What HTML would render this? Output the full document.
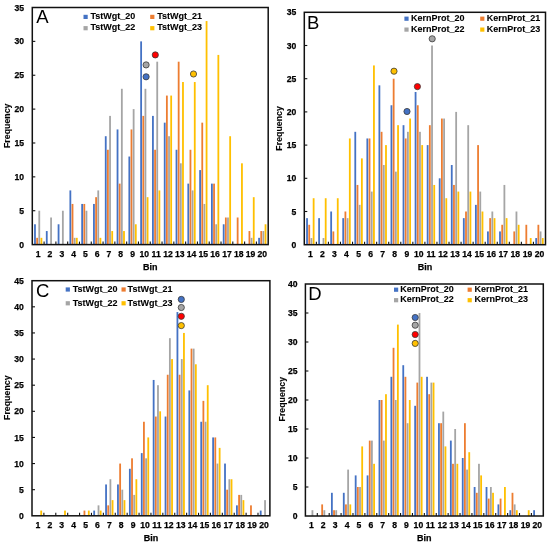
<!DOCTYPE html>
<html><head><meta charset="utf-8"><style>
html,body{margin:0;padding:0;background:#fff;width:550px;height:545px;overflow:hidden}
svg{display:block;will-change:transform}
text{font-family:"Liberation Sans",sans-serif;fill:#000}
.t,.b{stroke:#000;stroke-width:0.25px}
.f,.g{stroke:#000;stroke-width:0.1px}
.t{font-size:8.6px;font-weight:bold}
.f{font-size:8.8px;font-weight:bold}
.b{font-size:9.0px;font-weight:bold}
.g{font-size:9.0px;font-weight:bold}
.l{font-size:18.5px}
</style></head><body>
<svg width="550" height="545" viewBox="0 0 550 545">
<rect x="34.07" y="224.28" width="1.8" height="20.32" fill="#4472C4"/>
<rect x="45.86" y="231.05" width="1.8" height="13.55" fill="#4472C4"/>
<rect x="57.66" y="224.28" width="1.8" height="20.32" fill="#4472C4"/>
<rect x="69.45" y="190.41" width="1.8" height="54.19" fill="#4472C4"/>
<rect x="81.25" y="203.95" width="1.8" height="40.65" fill="#4472C4"/>
<rect x="93.04" y="203.95" width="1.8" height="40.65" fill="#4472C4"/>
<rect x="104.84" y="136.21" width="1.8" height="108.39" fill="#4472C4"/>
<rect x="116.63" y="129.44" width="1.8" height="115.16" fill="#4472C4"/>
<rect x="128.43" y="156.53" width="1.8" height="88.07" fill="#4472C4"/>
<rect x="140.22" y="41.37" width="1.8" height="203.23" fill="#4472C4"/>
<rect x="152.02" y="115.89" width="1.8" height="128.71" fill="#4472C4"/>
<rect x="163.81" y="122.66" width="1.8" height="121.94" fill="#4472C4"/>
<rect x="175.61" y="149.76" width="1.8" height="94.84" fill="#4472C4"/>
<rect x="187.40" y="183.63" width="1.8" height="60.97" fill="#4472C4"/>
<rect x="199.20" y="170.08" width="1.8" height="74.52" fill="#4472C4"/>
<rect x="210.99" y="183.63" width="1.8" height="60.97" fill="#4472C4"/>
<rect x="222.79" y="224.28" width="1.8" height="20.32" fill="#4472C4"/>
<rect x="258.17" y="237.83" width="1.8" height="6.77" fill="#4472C4"/>
<rect x="36.22" y="237.83" width="1.8" height="6.77" fill="#ED7D31"/>
<rect x="71.61" y="203.95" width="1.8" height="40.65" fill="#ED7D31"/>
<rect x="83.40" y="203.95" width="1.8" height="40.65" fill="#ED7D31"/>
<rect x="95.20" y="197.18" width="1.8" height="47.42" fill="#ED7D31"/>
<rect x="106.99" y="149.76" width="1.8" height="94.84" fill="#ED7D31"/>
<rect x="118.79" y="183.63" width="1.8" height="60.97" fill="#ED7D31"/>
<rect x="130.58" y="129.44" width="1.8" height="115.16" fill="#ED7D31"/>
<rect x="142.38" y="115.89" width="1.8" height="128.71" fill="#ED7D31"/>
<rect x="154.17" y="149.76" width="1.8" height="94.84" fill="#ED7D31"/>
<rect x="165.97" y="95.57" width="1.8" height="149.03" fill="#ED7D31"/>
<rect x="177.76" y="61.69" width="1.8" height="182.91" fill="#ED7D31"/>
<rect x="189.56" y="149.76" width="1.8" height="94.84" fill="#ED7D31"/>
<rect x="201.35" y="122.66" width="1.8" height="121.94" fill="#ED7D31"/>
<rect x="213.15" y="183.63" width="1.8" height="60.97" fill="#ED7D31"/>
<rect x="224.94" y="217.50" width="1.8" height="27.10" fill="#ED7D31"/>
<rect x="236.74" y="217.50" width="1.8" height="27.10" fill="#ED7D31"/>
<rect x="248.53" y="231.05" width="1.8" height="13.55" fill="#ED7D31"/>
<rect x="260.33" y="231.05" width="1.8" height="13.55" fill="#ED7D31"/>
<rect x="38.37" y="210.73" width="1.8" height="33.87" fill="#A5A5A5"/>
<rect x="50.17" y="217.50" width="1.8" height="27.10" fill="#A5A5A5"/>
<rect x="61.96" y="210.73" width="1.8" height="33.87" fill="#A5A5A5"/>
<rect x="73.76" y="237.83" width="1.8" height="6.77" fill="#A5A5A5"/>
<rect x="85.55" y="210.73" width="1.8" height="33.87" fill="#A5A5A5"/>
<rect x="97.35" y="190.41" width="1.8" height="54.19" fill="#A5A5A5"/>
<rect x="109.14" y="115.89" width="1.8" height="128.71" fill="#A5A5A5"/>
<rect x="120.94" y="88.79" width="1.8" height="155.81" fill="#A5A5A5"/>
<rect x="132.73" y="109.11" width="1.8" height="135.49" fill="#A5A5A5"/>
<rect x="144.53" y="88.79" width="1.8" height="155.81" fill="#A5A5A5"/>
<rect x="156.32" y="61.69" width="1.8" height="182.91" fill="#A5A5A5"/>
<rect x="168.12" y="136.21" width="1.8" height="108.39" fill="#A5A5A5"/>
<rect x="179.91" y="163.31" width="1.8" height="81.29" fill="#A5A5A5"/>
<rect x="191.71" y="190.41" width="1.8" height="54.19" fill="#A5A5A5"/>
<rect x="203.50" y="203.95" width="1.8" height="40.65" fill="#A5A5A5"/>
<rect x="215.30" y="224.28" width="1.8" height="20.32" fill="#A5A5A5"/>
<rect x="227.09" y="217.50" width="1.8" height="27.10" fill="#A5A5A5"/>
<rect x="250.68" y="237.83" width="1.8" height="6.77" fill="#A5A5A5"/>
<rect x="262.48" y="231.05" width="1.8" height="13.55" fill="#A5A5A5"/>
<rect x="40.53" y="237.83" width="1.8" height="6.77" fill="#FFC000"/>
<rect x="75.91" y="237.83" width="1.8" height="6.77" fill="#FFC000"/>
<rect x="99.50" y="237.83" width="1.8" height="6.77" fill="#FFC000"/>
<rect x="111.30" y="231.05" width="1.8" height="13.55" fill="#FFC000"/>
<rect x="123.09" y="231.05" width="1.8" height="13.55" fill="#FFC000"/>
<rect x="134.89" y="224.28" width="1.8" height="20.32" fill="#FFC000"/>
<rect x="146.68" y="197.18" width="1.8" height="47.42" fill="#FFC000"/>
<rect x="158.48" y="190.41" width="1.8" height="54.19" fill="#FFC000"/>
<rect x="170.27" y="95.57" width="1.8" height="149.03" fill="#FFC000"/>
<rect x="182.07" y="82.02" width="1.8" height="162.58" fill="#FFC000"/>
<rect x="193.86" y="82.02" width="1.8" height="162.58" fill="#FFC000"/>
<rect x="205.66" y="21.05" width="1.8" height="223.55" fill="#FFC000"/>
<rect x="217.45" y="54.92" width="1.8" height="189.68" fill="#FFC000"/>
<rect x="229.25" y="136.21" width="1.8" height="108.39" fill="#FFC000"/>
<rect x="241.04" y="163.31" width="1.8" height="81.29" fill="#FFC000"/>
<rect x="252.84" y="197.18" width="1.8" height="47.42" fill="#FFC000"/>
<rect x="264.63" y="224.28" width="1.8" height="20.32" fill="#FFC000"/>
<line x1="44.09" y1="244.6" x2="44.09" y2="241.6" stroke="#111" stroke-width="1.1"/>
<line x1="55.89" y1="244.6" x2="55.89" y2="241.6" stroke="#111" stroke-width="1.1"/>
<line x1="67.68" y1="244.6" x2="67.68" y2="241.6" stroke="#111" stroke-width="1.1"/>
<line x1="79.48" y1="244.6" x2="79.48" y2="241.6" stroke="#111" stroke-width="1.1"/>
<line x1="91.27" y1="244.6" x2="91.27" y2="241.6" stroke="#111" stroke-width="1.1"/>
<line x1="103.07" y1="244.6" x2="103.07" y2="241.6" stroke="#111" stroke-width="1.1"/>
<line x1="114.86" y1="244.6" x2="114.86" y2="241.6" stroke="#111" stroke-width="1.1"/>
<line x1="126.66" y1="244.6" x2="126.66" y2="241.6" stroke="#111" stroke-width="1.1"/>
<line x1="138.45" y1="244.6" x2="138.45" y2="241.6" stroke="#111" stroke-width="1.1"/>
<line x1="150.25" y1="244.6" x2="150.25" y2="241.6" stroke="#111" stroke-width="1.1"/>
<line x1="162.04" y1="244.6" x2="162.04" y2="241.6" stroke="#111" stroke-width="1.1"/>
<line x1="173.84" y1="244.6" x2="173.84" y2="241.6" stroke="#111" stroke-width="1.1"/>
<line x1="185.63" y1="244.6" x2="185.63" y2="241.6" stroke="#111" stroke-width="1.1"/>
<line x1="197.43" y1="244.6" x2="197.43" y2="241.6" stroke="#111" stroke-width="1.1"/>
<line x1="209.22" y1="244.6" x2="209.22" y2="241.6" stroke="#111" stroke-width="1.1"/>
<line x1="221.02" y1="244.6" x2="221.02" y2="241.6" stroke="#111" stroke-width="1.1"/>
<line x1="232.81" y1="244.6" x2="232.81" y2="241.6" stroke="#111" stroke-width="1.1"/>
<line x1="244.61" y1="244.6" x2="244.61" y2="241.6" stroke="#111" stroke-width="1.1"/>
<line x1="256.40" y1="244.6" x2="256.40" y2="241.6" stroke="#111" stroke-width="1.1"/>
<line x1="32.3" y1="210.73" x2="35.3" y2="210.73" stroke="#111" stroke-width="1.1"/>
<line x1="32.3" y1="176.86" x2="35.3" y2="176.86" stroke="#111" stroke-width="1.1"/>
<line x1="32.3" y1="142.99" x2="35.3" y2="142.99" stroke="#111" stroke-width="1.1"/>
<line x1="32.3" y1="109.11" x2="35.3" y2="109.11" stroke="#111" stroke-width="1.1"/>
<line x1="32.3" y1="75.24" x2="35.3" y2="75.24" stroke="#111" stroke-width="1.1"/>
<line x1="32.3" y1="41.37" x2="35.3" y2="41.37" stroke="#111" stroke-width="1.1"/>
<rect x="32.3" y="7.5" width="235.90" height="237.10" fill="none" stroke="#111" stroke-width="1.5"/>
<text x="24.0" y="247.70" class="t" text-anchor="end">0</text>
<text x="24.0" y="213.83" class="t" text-anchor="end">5</text>
<text x="24.0" y="179.96" class="t" text-anchor="end">10</text>
<text x="24.0" y="146.09" class="t" text-anchor="end">15</text>
<text x="24.0" y="112.21" class="t" text-anchor="end">20</text>
<text x="24.0" y="78.34" class="t" text-anchor="end">25</text>
<text x="24.0" y="44.47" class="t" text-anchor="end">30</text>
<text x="24.0" y="10.60" class="t" text-anchor="end">35</text>
<text x="38.20" y="256.7" class="t" text-anchor="middle">1</text>
<text x="49.99" y="256.7" class="t" text-anchor="middle">2</text>
<text x="61.79" y="256.7" class="t" text-anchor="middle">3</text>
<text x="73.58" y="256.7" class="t" text-anchor="middle">4</text>
<text x="85.38" y="256.7" class="t" text-anchor="middle">5</text>
<text x="97.17" y="256.7" class="t" text-anchor="middle">6</text>
<text x="108.97" y="256.7" class="t" text-anchor="middle">7</text>
<text x="120.76" y="256.7" class="t" text-anchor="middle">8</text>
<text x="132.56" y="256.7" class="t" text-anchor="middle">9</text>
<text x="144.35" y="256.7" class="t" text-anchor="middle">10</text>
<text x="156.15" y="256.7" class="t" text-anchor="middle">11</text>
<text x="167.94" y="256.7" class="t" text-anchor="middle">12</text>
<text x="179.74" y="256.7" class="t" text-anchor="middle">13</text>
<text x="191.53" y="256.7" class="t" text-anchor="middle">14</text>
<text x="203.33" y="256.7" class="t" text-anchor="middle">15</text>
<text x="215.12" y="256.7" class="t" text-anchor="middle">16</text>
<text x="226.92" y="256.7" class="t" text-anchor="middle">17</text>
<text x="238.71" y="256.7" class="t" text-anchor="middle">18</text>
<text x="250.51" y="256.7" class="t" text-anchor="middle">19</text>
<text x="262.30" y="256.7" class="t" text-anchor="middle">20</text>
<text x="150.25" y="269.8" class="b" text-anchor="middle">Bin</text>
<text transform="translate(10.30,125.80) rotate(-90)" class="f" text-anchor="middle">Frequency</text>
<text x="36.2" y="23.4" class="l">A</text>
<rect x="83.5" y="14.80" width="4.2" height="4.2" fill="#4472C4"/>
<text x="90.5" y="19.1" class="g">TstWgt_20</text>
<rect x="150.2" y="14.80" width="4.2" height="4.2" fill="#ED7D31"/>
<text x="157.2" y="19.1" class="g">TstWgt_21</text>
<rect x="83.5" y="26.10" width="4.2" height="4.2" fill="#A5A5A5"/>
<text x="90.5" y="30.4" class="g">TstWgt_22</text>
<rect x="150.2" y="26.10" width="4.2" height="4.2" fill="#FFC000"/>
<text x="157.2" y="30.4" class="g">TstWgt_23</text>
<circle cx="146.1" cy="76.8" r="3.1" fill="#4472C4" stroke="#3a3a3a" stroke-width="0.8"/>
<circle cx="146.1" cy="64.9" r="3.1" fill="#A5A5A5" stroke="#3a3a3a" stroke-width="0.8"/>
<circle cx="155.3" cy="54.9" r="3.1" fill="#FF0000" stroke="#3a3a3a" stroke-width="0.8"/>
<circle cx="193.5" cy="74.0" r="3.1" fill="#FFC000" stroke="#3a3a3a" stroke-width="0.8"/>
<rect x="306.13" y="218.14" width="1.8" height="26.56" fill="#4472C4"/>
<rect x="318.19" y="218.14" width="1.8" height="26.56" fill="#4472C4"/>
<rect x="330.25" y="211.50" width="1.8" height="33.20" fill="#4472C4"/>
<rect x="342.31" y="218.14" width="1.8" height="26.56" fill="#4472C4"/>
<rect x="354.37" y="131.82" width="1.8" height="112.88" fill="#4472C4"/>
<rect x="366.43" y="138.46" width="1.8" height="106.24" fill="#4472C4"/>
<rect x="378.49" y="85.34" width="1.8" height="159.36" fill="#4472C4"/>
<rect x="390.55" y="105.26" width="1.8" height="139.44" fill="#4472C4"/>
<rect x="402.61" y="125.18" width="1.8" height="119.52" fill="#4472C4"/>
<rect x="414.67" y="91.98" width="1.8" height="152.72" fill="#4472C4"/>
<rect x="426.73" y="145.10" width="1.8" height="99.60" fill="#4472C4"/>
<rect x="438.79" y="178.30" width="1.8" height="66.40" fill="#4472C4"/>
<rect x="450.85" y="165.02" width="1.8" height="79.68" fill="#4472C4"/>
<rect x="462.91" y="218.14" width="1.8" height="26.56" fill="#4472C4"/>
<rect x="474.97" y="204.86" width="1.8" height="39.84" fill="#4472C4"/>
<rect x="487.03" y="231.42" width="1.8" height="13.28" fill="#4472C4"/>
<rect x="499.09" y="231.42" width="1.8" height="13.28" fill="#4472C4"/>
<rect x="535.27" y="238.06" width="1.8" height="6.64" fill="#4472C4"/>
<rect x="308.33" y="224.78" width="1.8" height="19.92" fill="#ED7D31"/>
<rect x="332.45" y="231.42" width="1.8" height="13.28" fill="#ED7D31"/>
<rect x="344.51" y="211.50" width="1.8" height="33.20" fill="#ED7D31"/>
<rect x="356.57" y="184.94" width="1.8" height="59.76" fill="#ED7D31"/>
<rect x="368.63" y="138.46" width="1.8" height="106.24" fill="#ED7D31"/>
<rect x="380.69" y="131.82" width="1.8" height="112.88" fill="#ED7D31"/>
<rect x="392.75" y="78.70" width="1.8" height="166.00" fill="#ED7D31"/>
<rect x="404.81" y="138.46" width="1.8" height="106.24" fill="#ED7D31"/>
<rect x="416.87" y="105.26" width="1.8" height="139.44" fill="#ED7D31"/>
<rect x="428.93" y="125.18" width="1.8" height="119.52" fill="#ED7D31"/>
<rect x="440.99" y="118.54" width="1.8" height="126.16" fill="#ED7D31"/>
<rect x="453.05" y="184.94" width="1.8" height="59.76" fill="#ED7D31"/>
<rect x="465.11" y="211.50" width="1.8" height="33.20" fill="#ED7D31"/>
<rect x="477.17" y="145.10" width="1.8" height="99.60" fill="#ED7D31"/>
<rect x="489.23" y="218.14" width="1.8" height="26.56" fill="#ED7D31"/>
<rect x="501.29" y="224.78" width="1.8" height="19.92" fill="#ED7D31"/>
<rect x="513.35" y="231.42" width="1.8" height="13.28" fill="#ED7D31"/>
<rect x="525.41" y="224.78" width="1.8" height="19.92" fill="#ED7D31"/>
<rect x="537.47" y="224.78" width="1.8" height="19.92" fill="#ED7D31"/>
<rect x="310.53" y="238.06" width="1.8" height="6.64" fill="#A5A5A5"/>
<rect x="322.59" y="238.06" width="1.8" height="6.64" fill="#A5A5A5"/>
<rect x="346.71" y="218.14" width="1.8" height="26.56" fill="#A5A5A5"/>
<rect x="358.77" y="204.86" width="1.8" height="39.84" fill="#A5A5A5"/>
<rect x="370.83" y="191.58" width="1.8" height="53.12" fill="#A5A5A5"/>
<rect x="382.89" y="165.02" width="1.8" height="79.68" fill="#A5A5A5"/>
<rect x="394.95" y="171.66" width="1.8" height="73.04" fill="#A5A5A5"/>
<rect x="407.01" y="131.82" width="1.8" height="112.88" fill="#A5A5A5"/>
<rect x="419.07" y="131.82" width="1.8" height="112.88" fill="#A5A5A5"/>
<rect x="431.13" y="45.50" width="1.8" height="199.20" fill="#A5A5A5"/>
<rect x="443.19" y="118.54" width="1.8" height="126.16" fill="#A5A5A5"/>
<rect x="455.25" y="111.90" width="1.8" height="132.80" fill="#A5A5A5"/>
<rect x="467.31" y="125.18" width="1.8" height="119.52" fill="#A5A5A5"/>
<rect x="479.37" y="191.58" width="1.8" height="53.12" fill="#A5A5A5"/>
<rect x="491.43" y="211.50" width="1.8" height="33.20" fill="#A5A5A5"/>
<rect x="503.49" y="184.94" width="1.8" height="59.76" fill="#A5A5A5"/>
<rect x="515.55" y="211.50" width="1.8" height="33.20" fill="#A5A5A5"/>
<rect x="539.67" y="231.42" width="1.8" height="13.28" fill="#A5A5A5"/>
<rect x="312.73" y="198.22" width="1.8" height="46.48" fill="#FFC000"/>
<rect x="324.79" y="198.22" width="1.8" height="46.48" fill="#FFC000"/>
<rect x="336.85" y="198.22" width="1.8" height="46.48" fill="#FFC000"/>
<rect x="348.91" y="138.46" width="1.8" height="106.24" fill="#FFC000"/>
<rect x="360.97" y="158.38" width="1.8" height="86.32" fill="#FFC000"/>
<rect x="373.03" y="65.42" width="1.8" height="179.28" fill="#FFC000"/>
<rect x="385.09" y="145.10" width="1.8" height="99.60" fill="#FFC000"/>
<rect x="397.15" y="125.18" width="1.8" height="119.52" fill="#FFC000"/>
<rect x="409.21" y="118.54" width="1.8" height="126.16" fill="#FFC000"/>
<rect x="421.27" y="145.10" width="1.8" height="99.60" fill="#FFC000"/>
<rect x="433.33" y="184.94" width="1.8" height="59.76" fill="#FFC000"/>
<rect x="445.39" y="198.22" width="1.8" height="46.48" fill="#FFC000"/>
<rect x="457.45" y="191.58" width="1.8" height="53.12" fill="#FFC000"/>
<rect x="469.51" y="191.58" width="1.8" height="53.12" fill="#FFC000"/>
<rect x="481.57" y="211.50" width="1.8" height="33.20" fill="#FFC000"/>
<rect x="493.63" y="218.14" width="1.8" height="26.56" fill="#FFC000"/>
<rect x="505.69" y="218.14" width="1.8" height="26.56" fill="#FFC000"/>
<rect x="517.75" y="224.78" width="1.8" height="19.92" fill="#FFC000"/>
<rect x="529.81" y="238.06" width="1.8" height="6.64" fill="#FFC000"/>
<rect x="541.87" y="238.06" width="1.8" height="6.64" fill="#FFC000"/>
<line x1="316.36" y1="244.7" x2="316.36" y2="241.7" stroke="#111" stroke-width="1.1"/>
<line x1="328.42" y1="244.7" x2="328.42" y2="241.7" stroke="#111" stroke-width="1.1"/>
<line x1="340.48" y1="244.7" x2="340.48" y2="241.7" stroke="#111" stroke-width="1.1"/>
<line x1="352.54" y1="244.7" x2="352.54" y2="241.7" stroke="#111" stroke-width="1.1"/>
<line x1="364.60" y1="244.7" x2="364.60" y2="241.7" stroke="#111" stroke-width="1.1"/>
<line x1="376.66" y1="244.7" x2="376.66" y2="241.7" stroke="#111" stroke-width="1.1"/>
<line x1="388.72" y1="244.7" x2="388.72" y2="241.7" stroke="#111" stroke-width="1.1"/>
<line x1="400.78" y1="244.7" x2="400.78" y2="241.7" stroke="#111" stroke-width="1.1"/>
<line x1="412.84" y1="244.7" x2="412.84" y2="241.7" stroke="#111" stroke-width="1.1"/>
<line x1="424.90" y1="244.7" x2="424.90" y2="241.7" stroke="#111" stroke-width="1.1"/>
<line x1="436.96" y1="244.7" x2="436.96" y2="241.7" stroke="#111" stroke-width="1.1"/>
<line x1="449.02" y1="244.7" x2="449.02" y2="241.7" stroke="#111" stroke-width="1.1"/>
<line x1="461.08" y1="244.7" x2="461.08" y2="241.7" stroke="#111" stroke-width="1.1"/>
<line x1="473.14" y1="244.7" x2="473.14" y2="241.7" stroke="#111" stroke-width="1.1"/>
<line x1="485.20" y1="244.7" x2="485.20" y2="241.7" stroke="#111" stroke-width="1.1"/>
<line x1="497.26" y1="244.7" x2="497.26" y2="241.7" stroke="#111" stroke-width="1.1"/>
<line x1="509.32" y1="244.7" x2="509.32" y2="241.7" stroke="#111" stroke-width="1.1"/>
<line x1="521.38" y1="244.7" x2="521.38" y2="241.7" stroke="#111" stroke-width="1.1"/>
<line x1="533.44" y1="244.7" x2="533.44" y2="241.7" stroke="#111" stroke-width="1.1"/>
<line x1="304.3" y1="211.50" x2="307.3" y2="211.50" stroke="#111" stroke-width="1.1"/>
<line x1="304.3" y1="178.30" x2="307.3" y2="178.30" stroke="#111" stroke-width="1.1"/>
<line x1="304.3" y1="145.10" x2="307.3" y2="145.10" stroke="#111" stroke-width="1.1"/>
<line x1="304.3" y1="111.90" x2="307.3" y2="111.90" stroke="#111" stroke-width="1.1"/>
<line x1="304.3" y1="78.70" x2="307.3" y2="78.70" stroke="#111" stroke-width="1.1"/>
<line x1="304.3" y1="45.50" x2="307.3" y2="45.50" stroke="#111" stroke-width="1.1"/>
<rect x="304.3" y="12.3" width="241.20" height="232.40" fill="none" stroke="#111" stroke-width="1.5"/>
<text x="296.4" y="247.80" class="t" text-anchor="end">0</text>
<text x="296.4" y="214.60" class="t" text-anchor="end">5</text>
<text x="296.4" y="181.40" class="t" text-anchor="end">10</text>
<text x="296.4" y="148.20" class="t" text-anchor="end">15</text>
<text x="296.4" y="115.00" class="t" text-anchor="end">20</text>
<text x="296.4" y="81.80" class="t" text-anchor="end">25</text>
<text x="296.4" y="48.60" class="t" text-anchor="end">30</text>
<text x="296.4" y="15.40" class="t" text-anchor="end">35</text>
<text x="310.33" y="256.7" class="t" text-anchor="middle">1</text>
<text x="322.39" y="256.7" class="t" text-anchor="middle">2</text>
<text x="334.45" y="256.7" class="t" text-anchor="middle">3</text>
<text x="346.51" y="256.7" class="t" text-anchor="middle">4</text>
<text x="358.57" y="256.7" class="t" text-anchor="middle">5</text>
<text x="370.63" y="256.7" class="t" text-anchor="middle">6</text>
<text x="382.69" y="256.7" class="t" text-anchor="middle">7</text>
<text x="394.75" y="256.7" class="t" text-anchor="middle">8</text>
<text x="406.81" y="256.7" class="t" text-anchor="middle">9</text>
<text x="418.87" y="256.7" class="t" text-anchor="middle">10</text>
<text x="430.93" y="256.7" class="t" text-anchor="middle">11</text>
<text x="442.99" y="256.7" class="t" text-anchor="middle">12</text>
<text x="455.05" y="256.7" class="t" text-anchor="middle">13</text>
<text x="467.11" y="256.7" class="t" text-anchor="middle">14</text>
<text x="479.17" y="256.7" class="t" text-anchor="middle">15</text>
<text x="491.23" y="256.7" class="t" text-anchor="middle">16</text>
<text x="503.29" y="256.7" class="t" text-anchor="middle">17</text>
<text x="515.35" y="256.7" class="t" text-anchor="middle">18</text>
<text x="527.41" y="256.7" class="t" text-anchor="middle">19</text>
<text x="539.47" y="256.7" class="t" text-anchor="middle">20</text>
<text x="424.90" y="269.5" class="b" text-anchor="middle">Bin</text>
<text transform="translate(282.30,128.40) rotate(-90)" class="f" text-anchor="middle">Frequency</text>
<text x="306.9" y="28.6" class="l">B</text>
<rect x="404.4" y="16.60" width="4.2" height="4.2" fill="#4472C4"/>
<text x="410.9" y="20.9" class="g">KernProt_20</text>
<rect x="480.2" y="16.60" width="4.2" height="4.2" fill="#ED7D31"/>
<text x="486.7" y="20.9" class="g">KernProt_21</text>
<rect x="404.4" y="27.50" width="4.2" height="4.2" fill="#A5A5A5"/>
<text x="410.9" y="31.8" class="g">KernProt_22</text>
<rect x="480.2" y="27.50" width="4.2" height="4.2" fill="#FFC000"/>
<text x="486.7" y="31.8" class="g">KernProt_23</text>
<circle cx="394.0" cy="71.2" r="3.1" fill="#FFC000" stroke="#3a3a3a" stroke-width="0.8"/>
<circle cx="407.0" cy="111.5" r="3.1" fill="#4472C4" stroke="#3a3a3a" stroke-width="0.8"/>
<circle cx="417.4" cy="86.6" r="3.1" fill="#FF0000" stroke="#3a3a3a" stroke-width="0.8"/>
<circle cx="432.2" cy="38.8" r="3.1" fill="#A5A5A5" stroke="#3a3a3a" stroke-width="0.8"/>
<rect x="93.27" y="510.58" width="1.8" height="5.22" fill="#4472C4"/>
<rect x="105.16" y="484.45" width="1.8" height="31.35" fill="#4472C4"/>
<rect x="117.06" y="484.45" width="1.8" height="31.35" fill="#4472C4"/>
<rect x="128.95" y="468.78" width="1.8" height="47.02" fill="#4472C4"/>
<rect x="140.85" y="453.11" width="1.8" height="62.69" fill="#4472C4"/>
<rect x="152.74" y="379.96" width="1.8" height="135.84" fill="#4472C4"/>
<rect x="164.64" y="416.54" width="1.8" height="99.26" fill="#4472C4"/>
<rect x="176.53" y="312.05" width="1.8" height="203.75" fill="#4472C4"/>
<rect x="188.43" y="390.41" width="1.8" height="125.39" fill="#4472C4"/>
<rect x="200.32" y="421.76" width="1.8" height="94.04" fill="#4472C4"/>
<rect x="212.22" y="437.43" width="1.8" height="78.37" fill="#4472C4"/>
<rect x="224.11" y="463.56" width="1.8" height="52.24" fill="#4472C4"/>
<rect x="236.01" y="505.35" width="1.8" height="10.45" fill="#4472C4"/>
<rect x="259.80" y="510.58" width="1.8" height="5.22" fill="#4472C4"/>
<rect x="83.54" y="510.58" width="1.8" height="5.22" fill="#ED7D31"/>
<rect x="107.33" y="505.35" width="1.8" height="10.45" fill="#ED7D31"/>
<rect x="119.23" y="463.56" width="1.8" height="52.24" fill="#ED7D31"/>
<rect x="131.12" y="458.33" width="1.8" height="57.47" fill="#ED7D31"/>
<rect x="143.02" y="421.76" width="1.8" height="94.04" fill="#ED7D31"/>
<rect x="154.91" y="416.54" width="1.8" height="99.26" fill="#ED7D31"/>
<rect x="166.81" y="374.74" width="1.8" height="141.06" fill="#ED7D31"/>
<rect x="178.70" y="374.74" width="1.8" height="141.06" fill="#ED7D31"/>
<rect x="190.60" y="348.62" width="1.8" height="167.18" fill="#ED7D31"/>
<rect x="202.49" y="400.86" width="1.8" height="114.94" fill="#ED7D31"/>
<rect x="214.39" y="437.43" width="1.8" height="78.37" fill="#ED7D31"/>
<rect x="226.28" y="489.68" width="1.8" height="26.12" fill="#ED7D31"/>
<rect x="238.18" y="494.90" width="1.8" height="20.90" fill="#ED7D31"/>
<rect x="250.07" y="505.35" width="1.8" height="10.45" fill="#ED7D31"/>
<rect x="97.61" y="505.35" width="1.8" height="10.45" fill="#A5A5A5"/>
<rect x="109.50" y="479.23" width="1.8" height="36.57" fill="#A5A5A5"/>
<rect x="121.40" y="489.68" width="1.8" height="26.12" fill="#A5A5A5"/>
<rect x="133.29" y="494.90" width="1.8" height="20.90" fill="#A5A5A5"/>
<rect x="145.19" y="458.33" width="1.8" height="57.47" fill="#A5A5A5"/>
<rect x="157.08" y="385.19" width="1.8" height="130.61" fill="#A5A5A5"/>
<rect x="168.98" y="338.17" width="1.8" height="177.63" fill="#A5A5A5"/>
<rect x="180.87" y="359.07" width="1.8" height="156.73" fill="#A5A5A5"/>
<rect x="192.77" y="348.62" width="1.8" height="167.18" fill="#A5A5A5"/>
<rect x="204.66" y="421.76" width="1.8" height="94.04" fill="#A5A5A5"/>
<rect x="216.56" y="463.56" width="1.8" height="52.24" fill="#A5A5A5"/>
<rect x="228.45" y="479.23" width="1.8" height="36.57" fill="#A5A5A5"/>
<rect x="240.35" y="494.90" width="1.8" height="20.90" fill="#A5A5A5"/>
<rect x="264.14" y="500.13" width="1.8" height="15.67" fill="#A5A5A5"/>
<rect x="40.30" y="510.58" width="1.8" height="5.22" fill="#FFC000"/>
<rect x="64.09" y="510.58" width="1.8" height="5.22" fill="#FFC000"/>
<rect x="87.88" y="510.58" width="1.8" height="5.22" fill="#FFC000"/>
<rect x="99.78" y="510.58" width="1.8" height="5.22" fill="#FFC000"/>
<rect x="111.67" y="500.13" width="1.8" height="15.67" fill="#FFC000"/>
<rect x="123.57" y="500.13" width="1.8" height="15.67" fill="#FFC000"/>
<rect x="135.46" y="479.23" width="1.8" height="36.57" fill="#FFC000"/>
<rect x="147.36" y="437.43" width="1.8" height="78.37" fill="#FFC000"/>
<rect x="159.25" y="411.31" width="1.8" height="104.49" fill="#FFC000"/>
<rect x="171.15" y="359.07" width="1.8" height="156.73" fill="#FFC000"/>
<rect x="183.04" y="332.94" width="1.8" height="182.86" fill="#FFC000"/>
<rect x="194.94" y="364.29" width="1.8" height="151.51" fill="#FFC000"/>
<rect x="206.83" y="385.19" width="1.8" height="130.61" fill="#FFC000"/>
<rect x="218.73" y="447.88" width="1.8" height="67.92" fill="#FFC000"/>
<rect x="230.62" y="479.23" width="1.8" height="36.57" fill="#FFC000"/>
<rect x="242.52" y="500.13" width="1.8" height="15.67" fill="#FFC000"/>
<line x1="43.89" y1="515.8" x2="43.89" y2="512.8" stroke="#111" stroke-width="1.1"/>
<line x1="55.79" y1="515.8" x2="55.79" y2="512.8" stroke="#111" stroke-width="1.1"/>
<line x1="67.69" y1="515.8" x2="67.69" y2="512.8" stroke="#111" stroke-width="1.1"/>
<line x1="79.58" y1="515.8" x2="79.58" y2="512.8" stroke="#111" stroke-width="1.1"/>
<line x1="91.47" y1="515.8" x2="91.47" y2="512.8" stroke="#111" stroke-width="1.1"/>
<line x1="103.37" y1="515.8" x2="103.37" y2="512.8" stroke="#111" stroke-width="1.1"/>
<line x1="115.27" y1="515.8" x2="115.27" y2="512.8" stroke="#111" stroke-width="1.1"/>
<line x1="127.16" y1="515.8" x2="127.16" y2="512.8" stroke="#111" stroke-width="1.1"/>
<line x1="139.06" y1="515.8" x2="139.06" y2="512.8" stroke="#111" stroke-width="1.1"/>
<line x1="150.95" y1="515.8" x2="150.95" y2="512.8" stroke="#111" stroke-width="1.1"/>
<line x1="162.84" y1="515.8" x2="162.84" y2="512.8" stroke="#111" stroke-width="1.1"/>
<line x1="174.74" y1="515.8" x2="174.74" y2="512.8" stroke="#111" stroke-width="1.1"/>
<line x1="186.63" y1="515.8" x2="186.63" y2="512.8" stroke="#111" stroke-width="1.1"/>
<line x1="198.53" y1="515.8" x2="198.53" y2="512.8" stroke="#111" stroke-width="1.1"/>
<line x1="210.42" y1="515.8" x2="210.42" y2="512.8" stroke="#111" stroke-width="1.1"/>
<line x1="222.32" y1="515.8" x2="222.32" y2="512.8" stroke="#111" stroke-width="1.1"/>
<line x1="234.22" y1="515.8" x2="234.22" y2="512.8" stroke="#111" stroke-width="1.1"/>
<line x1="246.11" y1="515.8" x2="246.11" y2="512.8" stroke="#111" stroke-width="1.1"/>
<line x1="258.00" y1="515.8" x2="258.00" y2="512.8" stroke="#111" stroke-width="1.1"/>
<line x1="32.0" y1="489.68" x2="35.0" y2="489.68" stroke="#111" stroke-width="1.1"/>
<line x1="32.0" y1="463.56" x2="35.0" y2="463.56" stroke="#111" stroke-width="1.1"/>
<line x1="32.0" y1="437.43" x2="35.0" y2="437.43" stroke="#111" stroke-width="1.1"/>
<line x1="32.0" y1="411.31" x2="35.0" y2="411.31" stroke="#111" stroke-width="1.1"/>
<line x1="32.0" y1="385.19" x2="35.0" y2="385.19" stroke="#111" stroke-width="1.1"/>
<line x1="32.0" y1="359.07" x2="35.0" y2="359.07" stroke="#111" stroke-width="1.1"/>
<line x1="32.0" y1="332.94" x2="35.0" y2="332.94" stroke="#111" stroke-width="1.1"/>
<line x1="32.0" y1="306.82" x2="35.0" y2="306.82" stroke="#111" stroke-width="1.1"/>
<rect x="32.0" y="280.7" width="237.90" height="235.10" fill="none" stroke="#111" stroke-width="1.5"/>
<text x="23.8" y="518.90" class="t" text-anchor="end">0</text>
<text x="23.8" y="492.78" class="t" text-anchor="end">5</text>
<text x="23.8" y="466.66" class="t" text-anchor="end">10</text>
<text x="23.8" y="440.53" class="t" text-anchor="end">15</text>
<text x="23.8" y="414.41" class="t" text-anchor="end">20</text>
<text x="23.8" y="388.29" class="t" text-anchor="end">25</text>
<text x="23.8" y="362.17" class="t" text-anchor="end">30</text>
<text x="23.8" y="336.04" class="t" text-anchor="end">35</text>
<text x="23.8" y="309.92" class="t" text-anchor="end">40</text>
<text x="23.8" y="283.80" class="t" text-anchor="end">45</text>
<text x="37.95" y="528.3" class="t" text-anchor="middle">1</text>
<text x="49.84" y="528.3" class="t" text-anchor="middle">2</text>
<text x="61.74" y="528.3" class="t" text-anchor="middle">3</text>
<text x="73.63" y="528.3" class="t" text-anchor="middle">4</text>
<text x="85.53" y="528.3" class="t" text-anchor="middle">5</text>
<text x="97.42" y="528.3" class="t" text-anchor="middle">6</text>
<text x="109.32" y="528.3" class="t" text-anchor="middle">7</text>
<text x="121.21" y="528.3" class="t" text-anchor="middle">8</text>
<text x="133.11" y="528.3" class="t" text-anchor="middle">9</text>
<text x="145.00" y="528.3" class="t" text-anchor="middle">10</text>
<text x="156.90" y="528.3" class="t" text-anchor="middle">11</text>
<text x="168.79" y="528.3" class="t" text-anchor="middle">12</text>
<text x="180.69" y="528.3" class="t" text-anchor="middle">13</text>
<text x="192.58" y="528.3" class="t" text-anchor="middle">14</text>
<text x="204.48" y="528.3" class="t" text-anchor="middle">15</text>
<text x="216.37" y="528.3" class="t" text-anchor="middle">16</text>
<text x="228.27" y="528.3" class="t" text-anchor="middle">17</text>
<text x="240.16" y="528.3" class="t" text-anchor="middle">18</text>
<text x="252.06" y="528.3" class="t" text-anchor="middle">19</text>
<text x="263.95" y="528.3" class="t" text-anchor="middle">20</text>
<text x="150.95" y="540.9" class="b" text-anchor="middle">Bin</text>
<text transform="translate(10.30,397.70) rotate(-90)" class="f" text-anchor="middle">Frequency</text>
<text x="36.0" y="296.5" class="l">C</text>
<rect x="65.7" y="287.40" width="4.2" height="4.2" fill="#4472C4"/>
<text x="72.7" y="291.7" class="g">TstWgt_20</text>
<rect x="121.5" y="287.40" width="4.2" height="4.2" fill="#ED7D31"/>
<text x="127.6" y="291.7" class="g">TstWgt_21</text>
<rect x="65.7" y="301.20" width="4.2" height="4.2" fill="#A5A5A5"/>
<text x="72.7" y="305.5" class="g">TstWgt_22</text>
<rect x="121.5" y="301.20" width="4.2" height="4.2" fill="#FFC000"/>
<text x="127.6" y="305.5" class="g">TstWgt_23</text>
<circle cx="181.3" cy="299.4" r="3.1" fill="#4472C4" stroke="#3a3a3a" stroke-width="0.8"/>
<circle cx="181.3" cy="307.5" r="3.1" fill="#A5A5A5" stroke="#3a3a3a" stroke-width="0.8"/>
<circle cx="181.3" cy="316.3" r="3.1" fill="#FF0000" stroke="#3a3a3a" stroke-width="0.8"/>
<circle cx="181.3" cy="325.6" r="3.1" fill="#FFC000" stroke="#3a3a3a" stroke-width="0.8"/>
<rect x="330.98" y="492.80" width="1.8" height="23.20" fill="#4472C4"/>
<rect x="342.88" y="492.80" width="1.8" height="23.20" fill="#4472C4"/>
<rect x="354.77" y="475.40" width="1.8" height="40.60" fill="#4472C4"/>
<rect x="366.67" y="475.40" width="1.8" height="40.60" fill="#4472C4"/>
<rect x="378.56" y="400.00" width="1.8" height="116.00" fill="#4472C4"/>
<rect x="390.46" y="376.80" width="1.8" height="139.20" fill="#4472C4"/>
<rect x="402.35" y="365.20" width="1.8" height="150.80" fill="#4472C4"/>
<rect x="414.25" y="405.80" width="1.8" height="110.20" fill="#4472C4"/>
<rect x="426.14" y="376.80" width="1.8" height="139.20" fill="#4472C4"/>
<rect x="438.04" y="423.20" width="1.8" height="92.80" fill="#4472C4"/>
<rect x="449.93" y="440.60" width="1.8" height="75.40" fill="#4472C4"/>
<rect x="461.83" y="458.00" width="1.8" height="58.00" fill="#4472C4"/>
<rect x="473.72" y="487.00" width="1.8" height="29.00" fill="#4472C4"/>
<rect x="485.62" y="487.00" width="1.8" height="29.00" fill="#4472C4"/>
<rect x="497.51" y="504.40" width="1.8" height="11.60" fill="#4472C4"/>
<rect x="509.41" y="510.20" width="1.8" height="5.80" fill="#4472C4"/>
<rect x="533.20" y="510.20" width="1.8" height="5.80" fill="#4472C4"/>
<rect x="321.26" y="504.40" width="1.8" height="11.60" fill="#ED7D31"/>
<rect x="333.15" y="510.20" width="1.8" height="5.80" fill="#ED7D31"/>
<rect x="345.05" y="504.40" width="1.8" height="11.60" fill="#ED7D31"/>
<rect x="356.94" y="487.00" width="1.8" height="29.00" fill="#ED7D31"/>
<rect x="368.84" y="440.60" width="1.8" height="75.40" fill="#ED7D31"/>
<rect x="380.73" y="400.00" width="1.8" height="116.00" fill="#ED7D31"/>
<rect x="392.63" y="347.80" width="1.8" height="168.20" fill="#ED7D31"/>
<rect x="404.52" y="376.80" width="1.8" height="139.20" fill="#ED7D31"/>
<rect x="416.42" y="382.60" width="1.8" height="133.40" fill="#ED7D31"/>
<rect x="428.31" y="394.20" width="1.8" height="121.80" fill="#ED7D31"/>
<rect x="440.21" y="423.20" width="1.8" height="92.80" fill="#ED7D31"/>
<rect x="452.10" y="463.80" width="1.8" height="52.20" fill="#ED7D31"/>
<rect x="464.00" y="423.20" width="1.8" height="92.80" fill="#ED7D31"/>
<rect x="475.89" y="492.80" width="1.8" height="23.20" fill="#ED7D31"/>
<rect x="487.79" y="498.60" width="1.8" height="17.40" fill="#ED7D31"/>
<rect x="499.68" y="498.60" width="1.8" height="17.40" fill="#ED7D31"/>
<rect x="511.58" y="492.80" width="1.8" height="23.20" fill="#ED7D31"/>
<rect x="311.53" y="510.20" width="1.8" height="5.80" fill="#A5A5A5"/>
<rect x="323.43" y="510.20" width="1.8" height="5.80" fill="#A5A5A5"/>
<rect x="335.32" y="510.20" width="1.8" height="5.80" fill="#A5A5A5"/>
<rect x="347.22" y="469.60" width="1.8" height="46.40" fill="#A5A5A5"/>
<rect x="359.11" y="487.00" width="1.8" height="29.00" fill="#A5A5A5"/>
<rect x="371.01" y="440.60" width="1.8" height="75.40" fill="#A5A5A5"/>
<rect x="382.90" y="440.60" width="1.8" height="75.40" fill="#A5A5A5"/>
<rect x="394.80" y="400.00" width="1.8" height="116.00" fill="#A5A5A5"/>
<rect x="406.69" y="423.20" width="1.8" height="92.80" fill="#A5A5A5"/>
<rect x="418.59" y="313.00" width="1.8" height="203.00" fill="#A5A5A5"/>
<rect x="430.48" y="382.60" width="1.8" height="133.40" fill="#A5A5A5"/>
<rect x="442.38" y="411.60" width="1.8" height="104.40" fill="#A5A5A5"/>
<rect x="454.27" y="429.00" width="1.8" height="87.00" fill="#A5A5A5"/>
<rect x="466.17" y="469.60" width="1.8" height="46.40" fill="#A5A5A5"/>
<rect x="478.06" y="463.80" width="1.8" height="52.20" fill="#A5A5A5"/>
<rect x="489.96" y="487.00" width="1.8" height="29.00" fill="#A5A5A5"/>
<rect x="513.75" y="504.40" width="1.8" height="11.60" fill="#A5A5A5"/>
<rect x="349.39" y="504.40" width="1.8" height="11.60" fill="#FFC000"/>
<rect x="361.28" y="446.40" width="1.8" height="69.60" fill="#FFC000"/>
<rect x="373.18" y="463.80" width="1.8" height="52.20" fill="#FFC000"/>
<rect x="385.07" y="394.20" width="1.8" height="121.80" fill="#FFC000"/>
<rect x="396.97" y="324.60" width="1.8" height="191.40" fill="#FFC000"/>
<rect x="408.86" y="400.00" width="1.8" height="116.00" fill="#FFC000"/>
<rect x="420.76" y="376.80" width="1.8" height="139.20" fill="#FFC000"/>
<rect x="432.65" y="382.60" width="1.8" height="133.40" fill="#FFC000"/>
<rect x="444.55" y="446.40" width="1.8" height="69.60" fill="#FFC000"/>
<rect x="456.44" y="463.80" width="1.8" height="52.20" fill="#FFC000"/>
<rect x="468.34" y="452.20" width="1.8" height="63.80" fill="#FFC000"/>
<rect x="480.23" y="475.40" width="1.8" height="40.60" fill="#FFC000"/>
<rect x="492.13" y="492.80" width="1.8" height="23.20" fill="#FFC000"/>
<rect x="504.02" y="487.00" width="1.8" height="29.00" fill="#FFC000"/>
<rect x="515.92" y="510.20" width="1.8" height="5.80" fill="#FFC000"/>
<rect x="527.81" y="510.20" width="1.8" height="5.80" fill="#FFC000"/>
<line x1="317.29" y1="516.0" x2="317.29" y2="513.0" stroke="#111" stroke-width="1.1"/>
<line x1="329.19" y1="516.0" x2="329.19" y2="513.0" stroke="#111" stroke-width="1.1"/>
<line x1="341.08" y1="516.0" x2="341.08" y2="513.0" stroke="#111" stroke-width="1.1"/>
<line x1="352.98" y1="516.0" x2="352.98" y2="513.0" stroke="#111" stroke-width="1.1"/>
<line x1="364.88" y1="516.0" x2="364.88" y2="513.0" stroke="#111" stroke-width="1.1"/>
<line x1="376.77" y1="516.0" x2="376.77" y2="513.0" stroke="#111" stroke-width="1.1"/>
<line x1="388.66" y1="516.0" x2="388.66" y2="513.0" stroke="#111" stroke-width="1.1"/>
<line x1="400.56" y1="516.0" x2="400.56" y2="513.0" stroke="#111" stroke-width="1.1"/>
<line x1="412.45" y1="516.0" x2="412.45" y2="513.0" stroke="#111" stroke-width="1.1"/>
<line x1="424.35" y1="516.0" x2="424.35" y2="513.0" stroke="#111" stroke-width="1.1"/>
<line x1="436.25" y1="516.0" x2="436.25" y2="513.0" stroke="#111" stroke-width="1.1"/>
<line x1="448.14" y1="516.0" x2="448.14" y2="513.0" stroke="#111" stroke-width="1.1"/>
<line x1="460.03" y1="516.0" x2="460.03" y2="513.0" stroke="#111" stroke-width="1.1"/>
<line x1="471.93" y1="516.0" x2="471.93" y2="513.0" stroke="#111" stroke-width="1.1"/>
<line x1="483.82" y1="516.0" x2="483.82" y2="513.0" stroke="#111" stroke-width="1.1"/>
<line x1="495.72" y1="516.0" x2="495.72" y2="513.0" stroke="#111" stroke-width="1.1"/>
<line x1="507.62" y1="516.0" x2="507.62" y2="513.0" stroke="#111" stroke-width="1.1"/>
<line x1="519.51" y1="516.0" x2="519.51" y2="513.0" stroke="#111" stroke-width="1.1"/>
<line x1="531.40" y1="516.0" x2="531.40" y2="513.0" stroke="#111" stroke-width="1.1"/>
<line x1="305.4" y1="487.00" x2="308.4" y2="487.00" stroke="#111" stroke-width="1.1"/>
<line x1="305.4" y1="458.00" x2="308.4" y2="458.00" stroke="#111" stroke-width="1.1"/>
<line x1="305.4" y1="429.00" x2="308.4" y2="429.00" stroke="#111" stroke-width="1.1"/>
<line x1="305.4" y1="400.00" x2="308.4" y2="400.00" stroke="#111" stroke-width="1.1"/>
<line x1="305.4" y1="371.00" x2="308.4" y2="371.00" stroke="#111" stroke-width="1.1"/>
<line x1="305.4" y1="342.00" x2="308.4" y2="342.00" stroke="#111" stroke-width="1.1"/>
<line x1="305.4" y1="313.00" x2="308.4" y2="313.00" stroke="#111" stroke-width="1.1"/>
<rect x="305.4" y="284.0" width="237.90" height="232.00" fill="none" stroke="#111" stroke-width="1.5"/>
<text x="297.6" y="519.10" class="t" text-anchor="end">0</text>
<text x="297.6" y="490.10" class="t" text-anchor="end">5</text>
<text x="297.6" y="461.10" class="t" text-anchor="end">10</text>
<text x="297.6" y="432.10" class="t" text-anchor="end">15</text>
<text x="297.6" y="403.10" class="t" text-anchor="end">20</text>
<text x="297.6" y="374.10" class="t" text-anchor="end">25</text>
<text x="297.6" y="345.10" class="t" text-anchor="end">30</text>
<text x="297.6" y="316.10" class="t" text-anchor="end">35</text>
<text x="297.6" y="287.10" class="t" text-anchor="end">40</text>
<text x="311.35" y="528.3" class="t" text-anchor="middle">1</text>
<text x="323.24" y="528.3" class="t" text-anchor="middle">2</text>
<text x="335.14" y="528.3" class="t" text-anchor="middle">3</text>
<text x="347.03" y="528.3" class="t" text-anchor="middle">4</text>
<text x="358.93" y="528.3" class="t" text-anchor="middle">5</text>
<text x="370.82" y="528.3" class="t" text-anchor="middle">6</text>
<text x="382.72" y="528.3" class="t" text-anchor="middle">7</text>
<text x="394.61" y="528.3" class="t" text-anchor="middle">8</text>
<text x="406.51" y="528.3" class="t" text-anchor="middle">9</text>
<text x="418.40" y="528.3" class="t" text-anchor="middle">10</text>
<text x="430.30" y="528.3" class="t" text-anchor="middle">11</text>
<text x="442.19" y="528.3" class="t" text-anchor="middle">12</text>
<text x="454.09" y="528.3" class="t" text-anchor="middle">13</text>
<text x="465.98" y="528.3" class="t" text-anchor="middle">14</text>
<text x="477.88" y="528.3" class="t" text-anchor="middle">15</text>
<text x="489.77" y="528.3" class="t" text-anchor="middle">16</text>
<text x="501.67" y="528.3" class="t" text-anchor="middle">17</text>
<text x="513.56" y="528.3" class="t" text-anchor="middle">18</text>
<text x="525.46" y="528.3" class="t" text-anchor="middle">19</text>
<text x="537.35" y="528.3" class="t" text-anchor="middle">20</text>
<text x="424.35" y="540.6" class="b" text-anchor="middle">Bin</text>
<text transform="translate(285.00,399.20) rotate(-90)" class="f" text-anchor="middle">Frequency</text>
<text x="308.2" y="300.0" class="l">D</text>
<rect x="394.0" y="287.60" width="4.2" height="4.2" fill="#4472C4"/>
<text x="400.3" y="291.9" class="g">KernProt_20</text>
<rect x="467.6" y="287.60" width="4.2" height="4.2" fill="#ED7D31"/>
<text x="474.5" y="291.9" class="g">KernProt_21</text>
<rect x="394.0" y="298.10" width="4.2" height="4.2" fill="#A5A5A5"/>
<text x="400.3" y="302.4" class="g">KernProt_22</text>
<rect x="467.6" y="298.10" width="4.2" height="4.2" fill="#FFC000"/>
<text x="474.5" y="302.4" class="g">KernProt_23</text>
<circle cx="415.2" cy="317.5" r="3.1" fill="#4472C4" stroke="#3a3a3a" stroke-width="0.8"/>
<circle cx="415.2" cy="325.2" r="3.1" fill="#A5A5A5" stroke="#3a3a3a" stroke-width="0.8"/>
<circle cx="415.2" cy="334.5" r="3.1" fill="#FF0000" stroke="#3a3a3a" stroke-width="0.8"/>
<circle cx="415.2" cy="343.4" r="3.1" fill="#FFC000" stroke="#3a3a3a" stroke-width="0.8"/>
</svg>
</body></html>
